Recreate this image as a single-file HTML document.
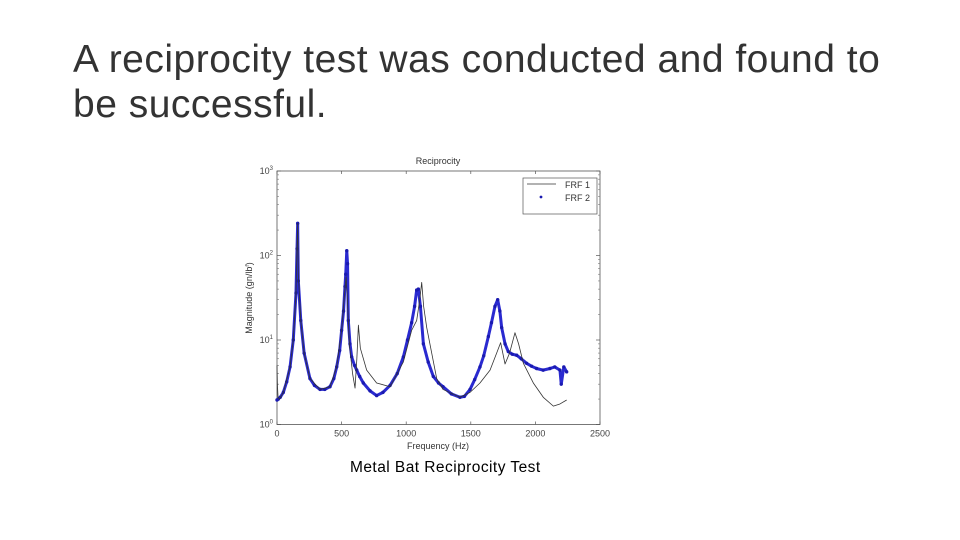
<!DOCTYPE html>
<html><head><meta charset="utf-8">
<style>
body{margin:0;width:960px;height:540px;background:#fff;overflow:hidden;font-family:"Liberation Sans",sans-serif}
#t{position:absolute;left:73px;top:37px;font-size:39px;line-height:45px;color:#333;letter-spacing:0.5px}
#cap{position:absolute;left:350px;top:459px;font-size:15.5px;color:#000;letter-spacing:0.45px}
</style></head><body>
<div id="t">A reciprocity test was conducted and found to<br>be successful.</div>
<svg id="c" width="960" height="540" style="position:absolute;left:0;top:0"></svg>
<div id="cap">Metal Bat Reciprocity Test</div>
<script>
const xTicks=[0,500,1000,1500,2000,2500];
const yTickExp=[0,1,2,3];
const frf1Freq=[0,3,8,20,49,101,126,147,155,160,165,184,210,255,333,410,462,500,526,535,545,560,585,604,618,630,645,694,771,875,978,1042,1081,1105,1120,1135,1159,1236,1285,1416,1494,1571,1649,1700,1731,1765,1800,1842,1870,1907,1984,2061,2139,2190,2242];
const frf1Mag=[5,3,2.1,2.0,2.4,4.8,10,36,130,240,60,17,7,3.5,2.6,2.8,4.8,13,40,56,30,9,4,2.7,6,15,8,4.4,3.1,2.8,5.5,13,17,30,48,25,14,3.5,2.6,2.1,2.4,3.1,4.4,7,9.3,5.2,7,12.2,9,5.3,3.1,2.1,1.65,1.75,1.95];
const frf2Freq=[0,10,25,49,75,101,126,147,155,160,165,184,210,255,290,333,370,410,440,462,485,500,515,526,532,540,546,552,565,578,600,617,640,668,720,771,820,875,930,978,1010,1042,1065,1081,1094,1110,1133,1170,1210,1250,1285,1350,1416,1450,1494,1530,1571,1600,1636,1660,1687,1708,1725,1739,1765,1790,1820,1855,1890,1932,1970,2009,2060,2113,2150,2190,2200,2220,2242];
const frf2Mag=[1.95,2.0,2.1,2.4,3.2,4.8,10,36,120,240,50,17,7,3.5,2.9,2.6,2.6,2.8,3.5,4.8,7.5,13,22,43,60,114,80,17,9,6.3,5,4.4,3.7,3.1,2.5,2.2,2.4,2.9,4,6.3,10,16,25,39,40,25,9,5.5,3.7,3.1,2.8,2.3,2.1,2.15,2.6,3.4,4.8,6.5,11,16,25,30,22,14,9,7.3,6.8,6.6,6,5.3,4.9,4.6,4.4,4.6,4.8,4.4,3,4.8,4.2];
const svg=document.getElementById('c');const NS='http://www.w3.org/2000/svg';
const L=277,R=600,T=171,B=424.5;
const xs=f=>L+f/2500*(R-L);
const ys=m=>B-Math.log10(m)/3*(B-T);
function el(n,a,p){const e=document.createElementNS(NS,n);for(const k in a)e.setAttribute(k,a[k]);(p||svg).appendChild(e);return e;}
const frame=el('rect',{x:L,y:T,width:R-L,height:B-T,fill:'#fff',stroke:'#555','stroke-width':0.8});


xTicks.forEach(v=>{const x=xs(v);
el('line',{x1:x,x2:x,y1:B,y2:B-3,stroke:'#555','stroke-width':0.7});
el('line',{x1:x,x2:x,y1:T,y2:T+3,stroke:'#555','stroke-width':0.7});
const t=el('text',{x:x,y:B+12,'font-size':9,fill:'#444','text-anchor':'middle'});t.textContent=v;

});
yTickExp.forEach(e=>{const y=ys(Math.pow(10,e));
el('line',{x1:L,x2:L+4,y1:y,y2:y,stroke:'#555','stroke-width':0.7});
el('line',{x1:R,x2:R-4,y1:y,y2:y,stroke:'#555','stroke-width':0.7});
const t=el('text',{x:L-4,y:y+3,'font-size':9,fill:'#444','text-anchor':'end'});t.innerHTML='10<tspan dy="-4" font-size="6">'+e+'</tspan>';


if(e<3)for(let k=2;k<10;k++){const yy=ys(k*Math.pow(10,e));
el('line',{x1:L,x2:L+2,y1:yy,y2:yy,stroke:'#777','stroke-width':0.6});
el('line',{x1:R,x2:R-2,y1:yy,y2:yy,stroke:'#777','stroke-width':0.6});}});
const tt=el('text',{x:438,y:164,'font-size':9,fill:'#333','text-anchor':'middle'});tt.textContent='Reciprocity';

const xl=el('text',{x:438,y:449,'font-size':9,fill:'#333','text-anchor':'middle'});xl.textContent='Frequency (Hz)';

const yl=el('text',{x:252,y:298,'font-size':9,fill:'#333','text-anchor':'middle',transform:'rotate(-90 252 298)'});yl.innerHTML='Magnitude (gn/lb<tspan dy="-3" font-size="5">f</tspan><tspan dy="3">)</tspan>';

let p2=frf2Freq.map((f,i)=>xs(f)+','+ys(frf2Mag[i])).join(' ');
const s2=el('polyline',{points:p2,fill:'none',stroke:'#2a2ad0','stroke-width':3,'stroke-linejoin':'round'});

frf2Freq.forEach((f,i)=>{const c=el('circle',{cx:xs(f),cy:ys(frf2Mag[i]),r:1.7,fill:'#1a1ab0'});

});
let p1=frf1Freq.map((f,i)=>xs(f)+','+ys(frf1Mag[i])).join(' ');
const s1=el('polyline',{points:p1,fill:'none',stroke:'#333','stroke-width':0.8,'stroke-linejoin':'round'});

const lg=el('g',{});
el('rect',{x:523,y:178,width:74,height:36,fill:'#fff',stroke:'#555','stroke-width':0.7},lg);
el('line',{x1:527,x2:556,y1:184,y2:184,stroke:'#333','stroke-width':0.8},lg);
el('circle',{cx:541,cy:197,r:1.4,fill:'#1a1ab0'},lg);
const a=el('text',{x:565,y:188,'font-size':9,fill:'#333'},lg);a.textContent='FRF 1';

const b=el('text',{x:565,y:201,'font-size':9,fill:'#333'},lg);b.textContent='FRF 2';

</script>
</body></html>
